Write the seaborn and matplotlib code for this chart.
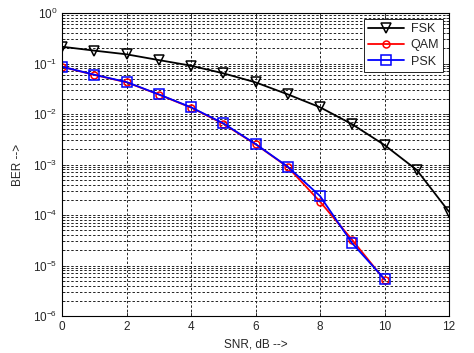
import numpy as np
import pandas as pd
import matplotlib
matplotlib.use("Agg")
import matplotlib.pyplot as plt
import seaborn as sns
from matplotlib.ticker import FixedLocator, NullFormatter, LogFormatterSciNotation

snr_fsk = [0, 1, 2, 3, 4, 5, 6, 7, 8, 9, 10, 11, 12]
ber_fsk = [0.215, 0.18, 0.152, 0.117, 0.0905, 0.064, 0.0424, 0.0245, 0.0136, 0.00625, 0.00243, 7.8e-4, 1.16e-4]
snr_qam = [0, 1, 2, 3, 4, 5, 6, 7, 8, 9, 10]
ber_qam = [0.086, 0.0595, 0.0425, 0.0243, 0.0134, 0.0064, 0.00252, 8.9e-4, 1.84e-4, 3.2e-5, 5.2e-6]
snr_psk = [0, 1, 2, 3, 4, 5, 6, 7, 8, 9, 10]
ber_psk = [0.0865, 0.06, 0.043, 0.0245, 0.0136, 0.00655, 0.00255, 9.05e-4, 2.38e-4, 2.75e-5, 5.4e-6]
x_ticks = [0, 2, 4, 6, 8, 10, 12]
y_exps = [-6, -5, -4, -3, -2, -1, 0]

sns.set_style("white")
plt.rcParams['font.family'] = ['Liberation Sans', 'DejaVu Sans']
plt.rcParams['mathtext.fontset'] = 'custom'
plt.rcParams['mathtext.rm'] = 'Liberation Sans'
plt.rcParams['mathtext.it'] = 'Liberation Sans'

df = pd.concat([
    pd.DataFrame({"SNR": snr_fsk, "BER": ber_fsk, "mod": "FSK"}),
    pd.DataFrame({"SNR": snr_qam, "BER": ber_qam, "mod": "QAM"}),
    pd.DataFrame({"SNR": snr_psk, "BER": ber_psk, "mod": "PSK"}),
])

fig = plt.figure(figsize=(4.74, 3.53), dpi=100)
ax = fig.add_axes([62/474, 37/353, 387/474, 303/353])

styles = {"FSK": ("black", "v", 6.5), "QAM": ("red", "o", 5), "PSK": ("blue", "s", 6.5)}
for name in ["FSK", "QAM", "PSK"]:
    c, m, ms = styles[name]
    sns.lineplot(data=df[df["mod"] == name], x="SNR", y="BER", ax=ax, color=c,
                 marker=m, markersize=ms, markerfacecolor="none",
                 markeredgecolor=c, markeredgewidth=1.1, linewidth=1.3, label=name)

ax.set_yscale("log")
ax.set_xlim(0, 12)
ax.set_ylim(1e-6, 1)
ax.xaxis.set_major_locator(FixedLocator(x_ticks))
ax.set_xticklabels([str(t) for t in x_ticks])
major_y = [10.0 ** e for e in y_exps]
minor_y = [k * 10.0 ** e for e in y_exps[:-1] for k in range(2, 10)]
ax.yaxis.set_major_locator(FixedLocator(major_y))
ax.yaxis.set_major_formatter(LogFormatterSciNotation(base=10))
ax.yaxis.set_minor_locator(FixedLocator(minor_y))
ax.yaxis.set_minor_formatter(NullFormatter())
ax.grid(True, which="major", axis="both", color="#222222", linestyle=(0, (2.5, 2)), linewidth=0.7)
ax.grid(True, which="minor", axis="y", color="#222222", linestyle=(0, (2.5, 2)), linewidth=0.7)
ax.tick_params(which="both", direction="in", labelsize=8.5, length=3, width=0.6)
ax.tick_params(which="minor", length=2)
ax.tick_params(axis="both", which="both", top=True, right=True, left=True, bottom=True)
for s in ax.spines.values():
    s.set_color("black")
    s.set_linewidth(0.8)

ax.set_xlabel("SNR, dB -->", fontsize=8.5, labelpad=4)
ax.set_ylabel("BER -->", fontsize=8.5, labelpad=6)

leg = ax.legend(loc="upper right", fontsize=9, frameon=True, fancybox=False,
                edgecolor="black", framealpha=1, borderpad=0.35, handlelength=2.9,
                labelspacing=0.35, borderaxespad=0.45, handletextpad=0.5)
leg.get_frame().set_linewidth(0.6)

fig.savefig("out.png", dpi=100)
